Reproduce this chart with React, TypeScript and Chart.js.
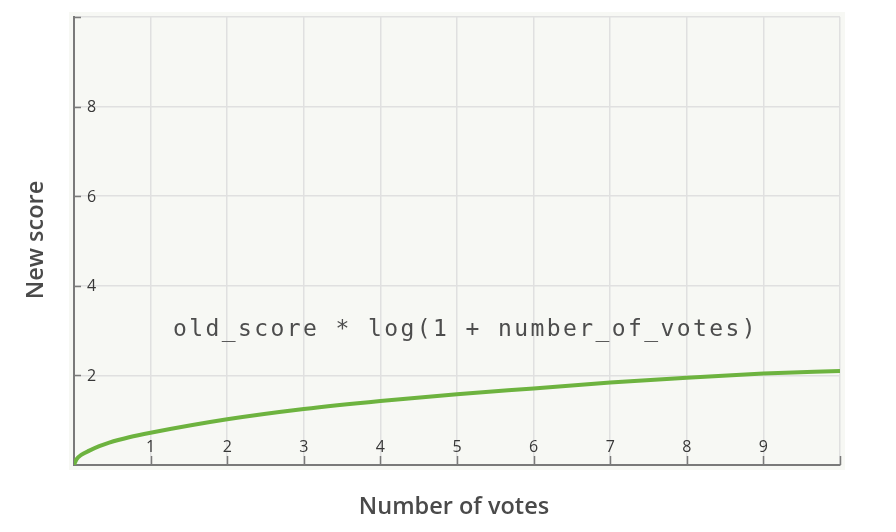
import React, { useEffect, useRef } from "react";
import { Chart, registerables } from "chart.js";

Chart.register(...registerables);

const votes = [0, 0.03, 0.1, 0.2, 0.33, 0.46, 0.72, 1, 2, 3, 4, 5, 6, 7, 8, 9, 10];
const newScore = [0, 0.12, 0.23, 0.32, 0.42, 0.5, 0.62, 0.72, 1.02, 1.25, 1.43, 1.58, 1.71, 1.84, 1.95, 2.04, 2.1];
const xTickLabels = ["1", "2", "3", "4", "5", "6", "7", "8", "9"];
const yTickLabels = ["2", "4", "6", "8"];
const xTickValues = [1, 2, 3, 4, 5, 6, 7, 8, 9, 10];
const yTickValues = [2, 4, 6, 8, 10];
const formulaText = "old_score * log(1 + number_of_votes)";
const formulaPos = { x: 5.11, y: 2.88 };
const xTitle = "Number of votes";
const yTitle = "New score";

const decorPlugin = {
  id: "decor",
  beforeDraw(chart: any) {
    const { ctx, chartArea } = chart;
    ctx.save();
    ctx.fillStyle = "#f7f8f4";
    ctx.fillRect(chartArea.left - 5, chartArea.top - 5, chartArea.right - chartArea.left + 10, chartArea.bottom - chartArea.top + 10);
    ctx.restore();
  },
  afterDraw(chart: any) {
    const { ctx, chartArea } = chart;
    const xs = chart.scales.x;
    const ys = chart.scales.y;
    ctx.save();
    // tick marks
    ctx.strokeStyle = "#7a7a7a";
    ctx.lineWidth = 1.5;
    xTickValues.forEach((v) => {
      const px = Math.round(xs.getPixelForValue(v)) + 0.5;
      ctx.beginPath();
      ctx.moveTo(px, chartArea.bottom);
      ctx.lineTo(px, chartArea.bottom - 9);
      ctx.stroke();
    });
    yTickValues.forEach((v) => {
      const py = Math.round(ys.getPixelForValue(v)) + 0.5;
      ctx.beginPath();
      ctx.moveTo(chartArea.left, py);
      ctx.lineTo(chartArea.left + 7, py);
      ctx.stroke();
    });
    // tick labels
    ctx.fillStyle = "#383838";
    ctx.font = "16px 'Open Sans'";
    ctx.textAlign = "center";
    ctx.textBaseline = "middle";
    xTickLabels.forEach((t) => {
      const px = xs.getPixelForValue(Number(t));
      ctx.fillText(t, px, chartArea.bottom - 18);
    });
    ctx.textAlign = "left";
    yTickLabels.forEach((t) => {
      const py = ys.getPixelForValue(Number(t));
      ctx.fillText(t, chartArea.left + 13, py + 1);
    });
    // formula
    ctx.fillStyle = "#4d4d4d";
    ctx.font = "23px 'DejaVu Sans Mono'";
    (ctx as any).letterSpacing = "2.4px";
    ctx.textAlign = "center";
    ctx.textBaseline = "alphabetic";
    ctx.fillText(formulaText, xs.getPixelForValue(formulaPos.x), ys.getPixelForValue(formulaPos.y));
    (ctx as any).letterSpacing = "0px";
    // axis titles
    ctx.fillStyle = "#4a4a4a";
    ctx.font = "600 23.5px 'Open Sans'";
    ctx.textBaseline = "middle";
    ctx.textAlign = "center";
    ctx.fillText(xTitle, (chartArea.left + chartArea.right) / 2 - 3, 507);
    ctx.translate(36, 240);
    ctx.rotate(-Math.PI / 2);
    ctx.fillText(yTitle, 0, 0);
    ctx.restore();
  },
};

export default function App() {
  const ref = useRef<HTMLCanvasElement>(null);
  useEffect(() => {
    if (!ref.current) return;
    const chart = new Chart(ref.current, {
      type: "line",
      data: {
        datasets: [
          {
            data: votes.map((v, i) => ({ x: v, y: newScore[i] })),
            borderColor: "#6db33f",
            borderWidth: 4,
            pointRadius: 0,
            cubicInterpolationMode: "monotone",
            fill: false,
          },
        ],
      },
      options: {
        animation: false,
        responsive: true,
        maintainAspectRatio: false,
        layout: { padding: { left: 74, top: 17, right: 56, bottom: 67 } },
        plugins: { legend: { display: false }, tooltip: { enabled: false } },
        scales: {
          x: {
            type: "linear",
            min: 0,
            max: 10,
            ticks: { display: false, stepSize: 1 },
            grid: { color: "#e0e0e0", lineWidth: 1.5, drawTicks: false },
            border: { color: "#7a7a7a", width: 2 },
          },
          y: {
            type: "linear",
            min: 0,
            max: 10,
            ticks: { display: false, stepSize: 2 },
            grid: { color: "#e0e0e0", lineWidth: 1.5, drawTicks: false },
            border: { color: "#7a7a7a", width: 2 },
          },
        },
      },
      plugins: [decorPlugin],
    });
    return () => chart.destroy();
  }, []);
  return (
    <div style={{ position: "fixed", left: 0, top: 0, width: 896, height: 532, background: "#fff" }}>
      <canvas ref={ref} />
    </div>
  );
}
